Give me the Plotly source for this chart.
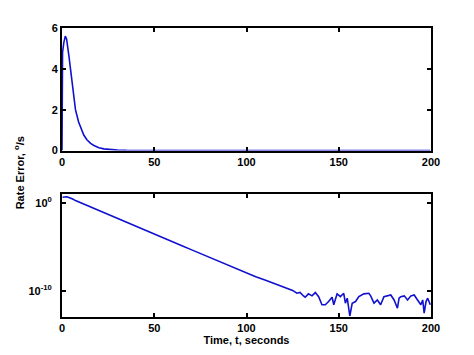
import plotly.graph_objects as go
from plotly.subplots import make_subplots

# ---- data ----
time_s = [0, 0.3, 1.0, 1.8, 2.5, 3.0, 3.8, 4.6, 5.8, 7.3, 9.0, 10.5, 11.8, 13.5, 15.5, 17.3,
          20, 22.7, 25, 30, 35, 40, 45, 50, 55, 60, 65, 70, 75, 80, 85, 90, 95, 100,
          105, 110, 115, 120, 125, 127.3, 129, 130.9, 131.8, 133.6, 135.5, 137.3, 139.1,
          140.9, 142.7, 144.5, 146.4, 147.3, 149.1, 150.9, 152.7, 153.6, 154.6, 156.0,
          157.3, 159.1, 160.9, 163.6, 166.3, 167.3, 169.1, 170.9, 172.7, 174.5, 176.4,
          178.2, 180.0, 181.8, 182.7, 183.6, 185.5, 187.3, 189.1, 190.9, 192.7, 194.5,
          195.5, 196.3, 197.3, 198.2, 199.6]
rate_error = [0.0, 4.8, 5.3, 5.6, 5.45, 5.2, 4.6, 4.0, 3.0, 2.0, 1.4, 1.0, 0.76, 0.53, 0.35, 0.25,
              0.14, 0.08, 5.1e-2, 1.9e-2, 6.8e-3, 2.5e-3, 8.9e-4, 3.2e-4, 1.1e-4, 4.0e-5, 1.4e-5,
              5.0e-6, 1.8e-6, 6.3e-7, 2.2e-7, 7.9e-8, 2.8e-8, 1.0e-8,
              4.0e-9, 1.7e-9, 7.0e-10, 3.0e-10, 1.1e-10, 5.2e-11, 6.3e-11, 2.5e-11, 1.8e-11,
              4.4e-11, 2.6e-11, 6.2e-11, 2.1e-11,
              2.5e-12, 2.5e-12, 5.8e-12, 1.8e-11, 2.5e-12, 4.4e-11, 2.1e-11, 5.1e-11, 3.8e-12,
              1.4e-11, 1.3e-13,
              3.8e-12, 5.8e-12, 2.1e-11, 4.4e-11, 5.1e-11, 2.6e-11, 3.8e-12, 8.9e-12, 2.5e-12,
              2.1e-11, 2.6e-11,
              3.3e-11, 8.9e-12, 1.0e-12, 1.4e-11, 2.1e-11, 2.6e-11, 8.9e-12, 2.6e-11, 3.3e-11,
              8.9e-12, 2.5e-12,
              8.9e-12, 2.8e-13, 5.8e-12, 1.4e-11, 2.5e-12]

x_ticks = [0, 50, 100, 150, 200]
top_y_ticks = [0, 2, 4, 6]
log_y_ticks = [1, 1e-10]
log_y_labels = ["10<sup>0</sup>", "10<sup>-10</sup>"]

# values that cannot be shown on a log axis are left out there (as MATLAB does)
rate_error_log = [v if v > 0 else None for v in rate_error]

LINE_COLOR = "#1010d0"
FAMILY = "Liberation Sans, Arial, sans-serif"
FONT = dict(family=FAMILY, size=11, color="black", weight="bold")

fig = make_subplots(rows=2, cols=1, vertical_spacing=0.152)

fig.add_trace(go.Scatter(x=time_s, y=rate_error, mode="lines",
                         line=dict(color=LINE_COLOR, width=1.6), showlegend=False), row=1, col=1)
fig.add_trace(go.Scatter(x=time_s, y=rate_error_log, mode="lines", connectgaps=False,
                         line=dict(color=LINE_COLOR, width=1.6), showlegend=False), row=2, col=1)

axis_style = dict(showline=True, linecolor="black", linewidth=2, mirror="allticks",
                  ticks="inside", ticklen=4, tickwidth=1.5, tickcolor="black",
                  showgrid=False, zeroline=False, tickfont=FONT)

fig.update_xaxes(range=[0, 200], tickvals=x_ticks, **axis_style)
fig.update_yaxes(range=[0, 6], tickvals=top_y_ticks, row=1, col=1, **axis_style)
fig.update_yaxes(type="log", range=[-13, 1], tickvals=log_y_ticks,
                 ticktext=log_y_labels, row=2, col=1,
                 ticklabelstandoff=6, **axis_style)

fig.update_xaxes(title=dict(text="Time, t, seconds", font=FONT, standoff=2), row=2, col=1)

fig.update_layout(
    width=474, height=355,
    margin=dict(l=62, r=43, t=28, b=38),
    paper_bgcolor="white", plot_bgcolor="white",
    font=FONT,
    annotations=[dict(text="Rate Error, <sup>o</sup>/s", textangle=-90,
                      xref="paper", yref="paper", x=-0.117, y=0.5,
                      xanchor="center", yanchor="middle", showarrow=False, font=FONT)],
)

fig.write_html("out.html", config={"displayModeBar": False},
               post_script="document.body.style.margin='0';document.body.style.padding='0';")
